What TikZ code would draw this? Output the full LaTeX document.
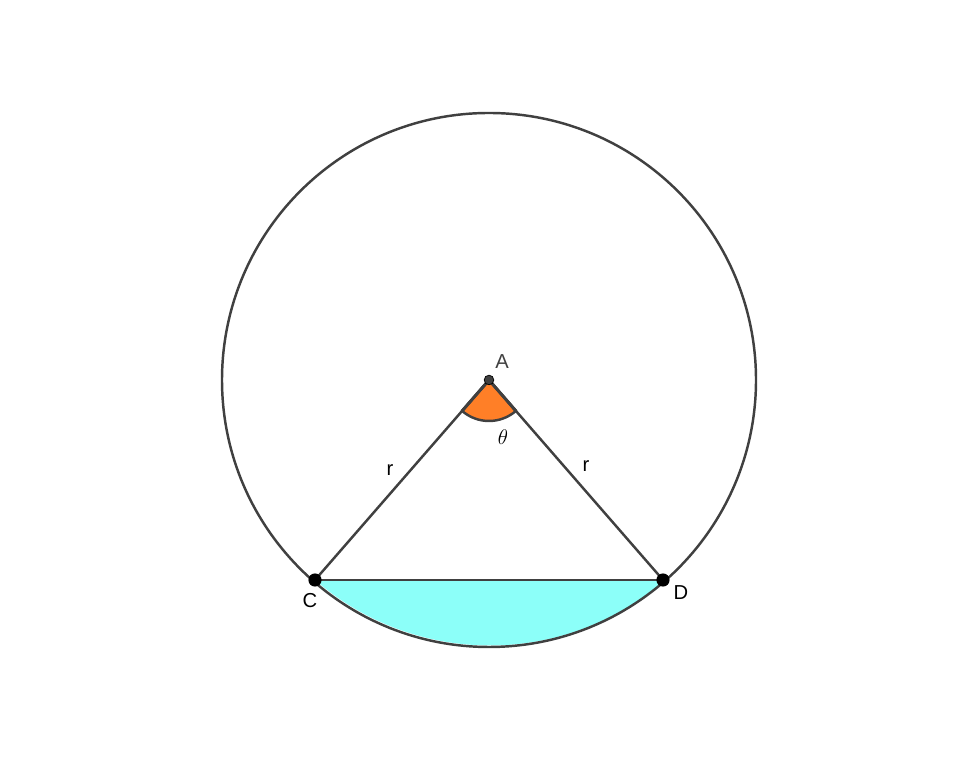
\documentclass[tikz,border=0pt]{standalone}
\usepackage{fontspec}
\setmainfont{Liberation Sans}
\usepackage{tikz}
\usetikzlibrary{positioning}

\definecolor{linegray}{HTML}{404040}
\definecolor{segcyan}{HTML}{8CFFF9}
\definecolor{angorange}{HTML}{FF7F27}

\begin{document}
\begin{tikzpicture}[x=0.02cm, y=0.02cm, line width=1.4pt,
	edgeline/.style={draw=linegray},
	pt/.style={circle, fill=black, inner sep=0pt, minimum size=7.5pt},
	lbl/.style={font=\fontsize{11.5}{13}\selectfont, inner sep=0pt}]
	\useasboundingbox (0,0) rectangle (980,766);
	\coordinate (A) at (489,386);
	\coordinate (C) at (315,186);
	\coordinate (D) at (663,186);

	\fill[segcyan] (C) arc (229:311:267) -- cycle;
	\draw[edgeline] (A) circle (267);
	\filldraw[fill=angorange, draw=linegray] (A) -- ++(229:41) arc (229:311:41) -- cycle;
	\draw[edgeline, line width=1.7pt] (A) -- ++(229:41) (A) -- ++(311:41);

	\path[edgeline] (A) edge node [lbl, pos=0.5, shift={(-12,10)}] {r} (C);
	\path[edgeline] (A) edge node [lbl, pos=0.5, shift={(10,14)}] {r} (D);
	\path[edgeline] (C) edge (D);

	\node[pt, fill=linegray, minimum size=5.5pt, draw=black, line width=0.4pt] (a) at (A) {};
	\node[pt] (c) at (C) {};
	\node[pt] (d) at (D) {};

	\node[lbl, text=linegray] (alab) at ([shift={(13,18)}]a) {A};
	\node[lbl] (clab) at ([shift={(-5,-21)}]c) {C};
	\node[lbl] (dlab) at ([shift={(18,-13)}]d) {D};
	\node[font=\fontsize{13}{15}\selectfont] (theta) at (503,329) {$\theta$};
\end{tikzpicture}
\end{document}
